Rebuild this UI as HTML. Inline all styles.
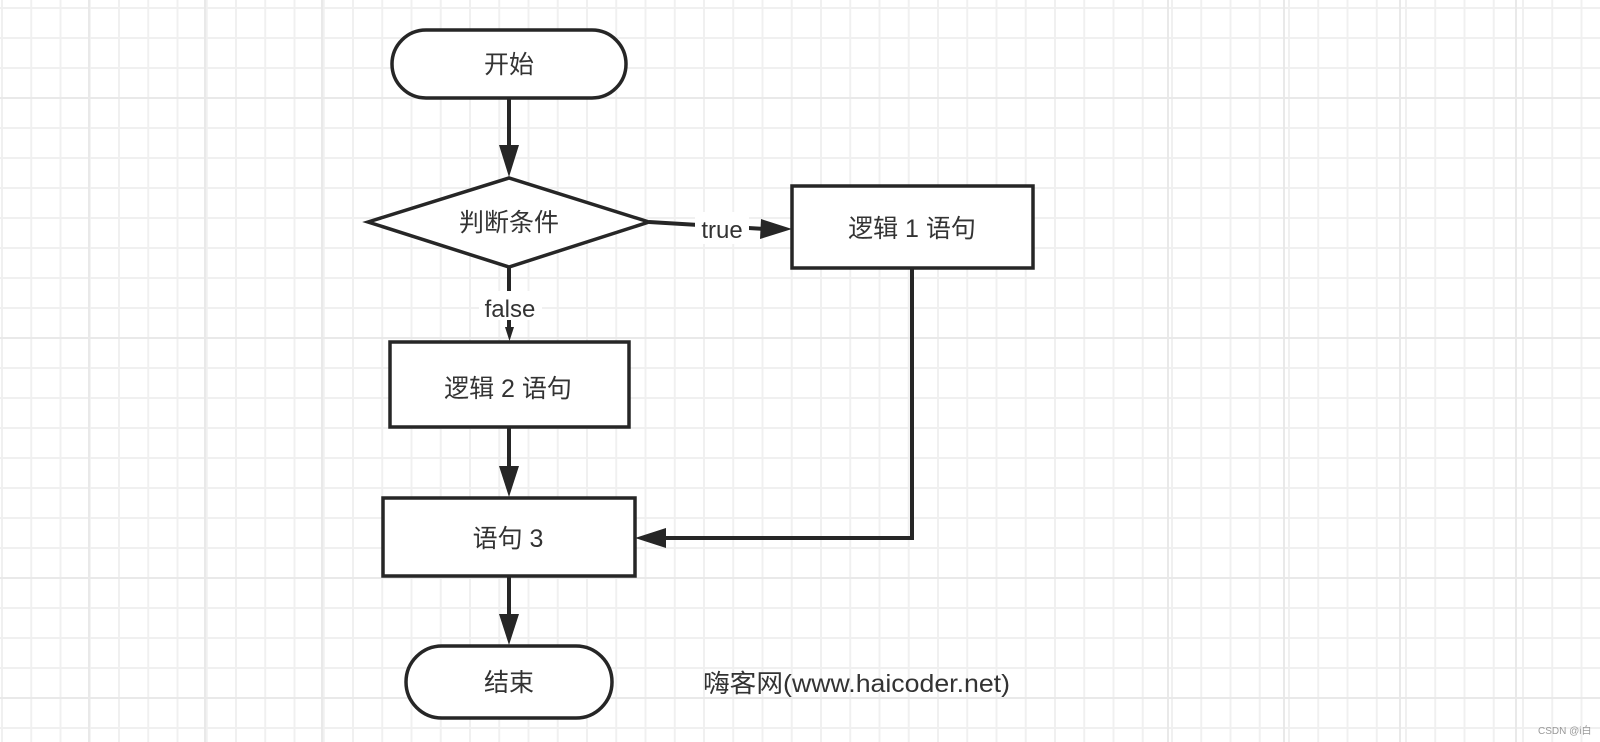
<!DOCTYPE html>
<html><head><meta charset="utf-8"><style>
html,body{margin:0;padding:0;background:#fff;}
svg{display:block;}
text{font-family:"Liberation Sans","Noto Sans CJK SC",sans-serif;fill:#333;}
</style></head><body>
<svg width="1600" height="742" viewBox="0 0 1600 742" xmlns="http://www.w3.org/2000/svg">
<defs>
<pattern id="gv" x="1" y="0" width="29.25" height="742" patternUnits="userSpaceOnUse">
<rect x="0" y="0" width="2" height="742" fill="#f0f0f0"/>
</pattern>
<pattern id="gh" x="0" y="7" width="1600" height="30" patternUnits="userSpaceOnUse">
<rect x="0" y="0" width="1600" height="2" fill="#f0f0f0"/>
</pattern>
</defs>
<rect width="1600" height="742" fill="#fff"/>
<rect width="1600" height="742" fill="url(#gv)"/>
<rect width="1600" height="742" fill="url(#gh)"/>
<g fill="#e9e9e9">
<rect x="88" y="0" width="2" height="742"/>
<rect x="204" y="0" width="2" height="742"/>
<rect x="321" y="0" width="2" height="742"/>
<rect x="1167" y="0" width="2" height="742"/>
<rect x="1283" y="0" width="2" height="742"/>
<rect x="1399" y="0" width="2" height="742"/>
<rect x="1515" y="0" width="2" height="742"/>
<rect x="0" y="97" width="1600" height="2"/>
<rect x="0" y="337" width="1600" height="2"/>
<rect x="0" y="577" width="1600" height="2"/>
<rect x="0" y="697" width="1600" height="2"/>
</g>

<g stroke="#262626" stroke-width="3.5" fill="#fff">
<rect x="392" y="30" width="234" height="68" rx="34"/>
<polygon points="368,222 509,178 649,222 509,267"/>
<rect x="792" y="186" width="241" height="82"/>
<rect x="390" y="342" width="239" height="85"/>
<rect x="383" y="498" width="252" height="78"/>
<rect x="406" y="646" width="206" height="72" rx="36"/>
</g>

<g stroke="#262626" stroke-width="4" fill="none">
<line x1="509" y1="98" x2="509" y2="148"/>
<line x1="649" y1="222" x2="765" y2="229"/>
<polyline points="912,268 912,538 662,538"/>
<line x1="509" y1="427" x2="509" y2="468"/>
<line x1="509" y1="576" x2="509" y2="616"/>
<line x1="509" y1="267" x2="509" y2="330"/>
</g>
<g fill="#262626">
<polygon points="499,145 519,145 509,177"/>
<polygon points="761,219 792,229 760,239"/>
<polygon points="666,528 666,548 635,538"/>
<polygon points="499,466 519,466 509,497"/>
<polygon points="499,614 519,614 509,645"/>
<polygon points="505,327 514,327 509.5,341"/>
</g>

<rect x="695" y="212" width="54" height="32" fill="#fff"/>
<text x="722" y="238" font-size="24" text-anchor="middle">true</text>
<rect x="479" y="291" width="63" height="29" fill="#fff"/>
<text x="510" y="317" font-size="24" text-anchor="middle">false</text>

<g font-size="25" text-anchor="middle">
<text x="509" y="73">开始</text>
<text x="509" y="231">判断条件</text>
<text x="912" y="237">逻辑 1 语句</text>
<text x="508" y="397">逻辑 2 语句</text>
<text x="508" y="547">语句 3</text>
<text x="509" y="691">结束</text>
</g>
<text x="703" y="692" font-size="25" textLength="307" lengthAdjust="spacingAndGlyphs">嗨客网(www.haicoder.net)</text>
<text x="1538" y="734" font-size="10" style="fill:#999">CSDN @i白</text>
</svg>
</body></html>
